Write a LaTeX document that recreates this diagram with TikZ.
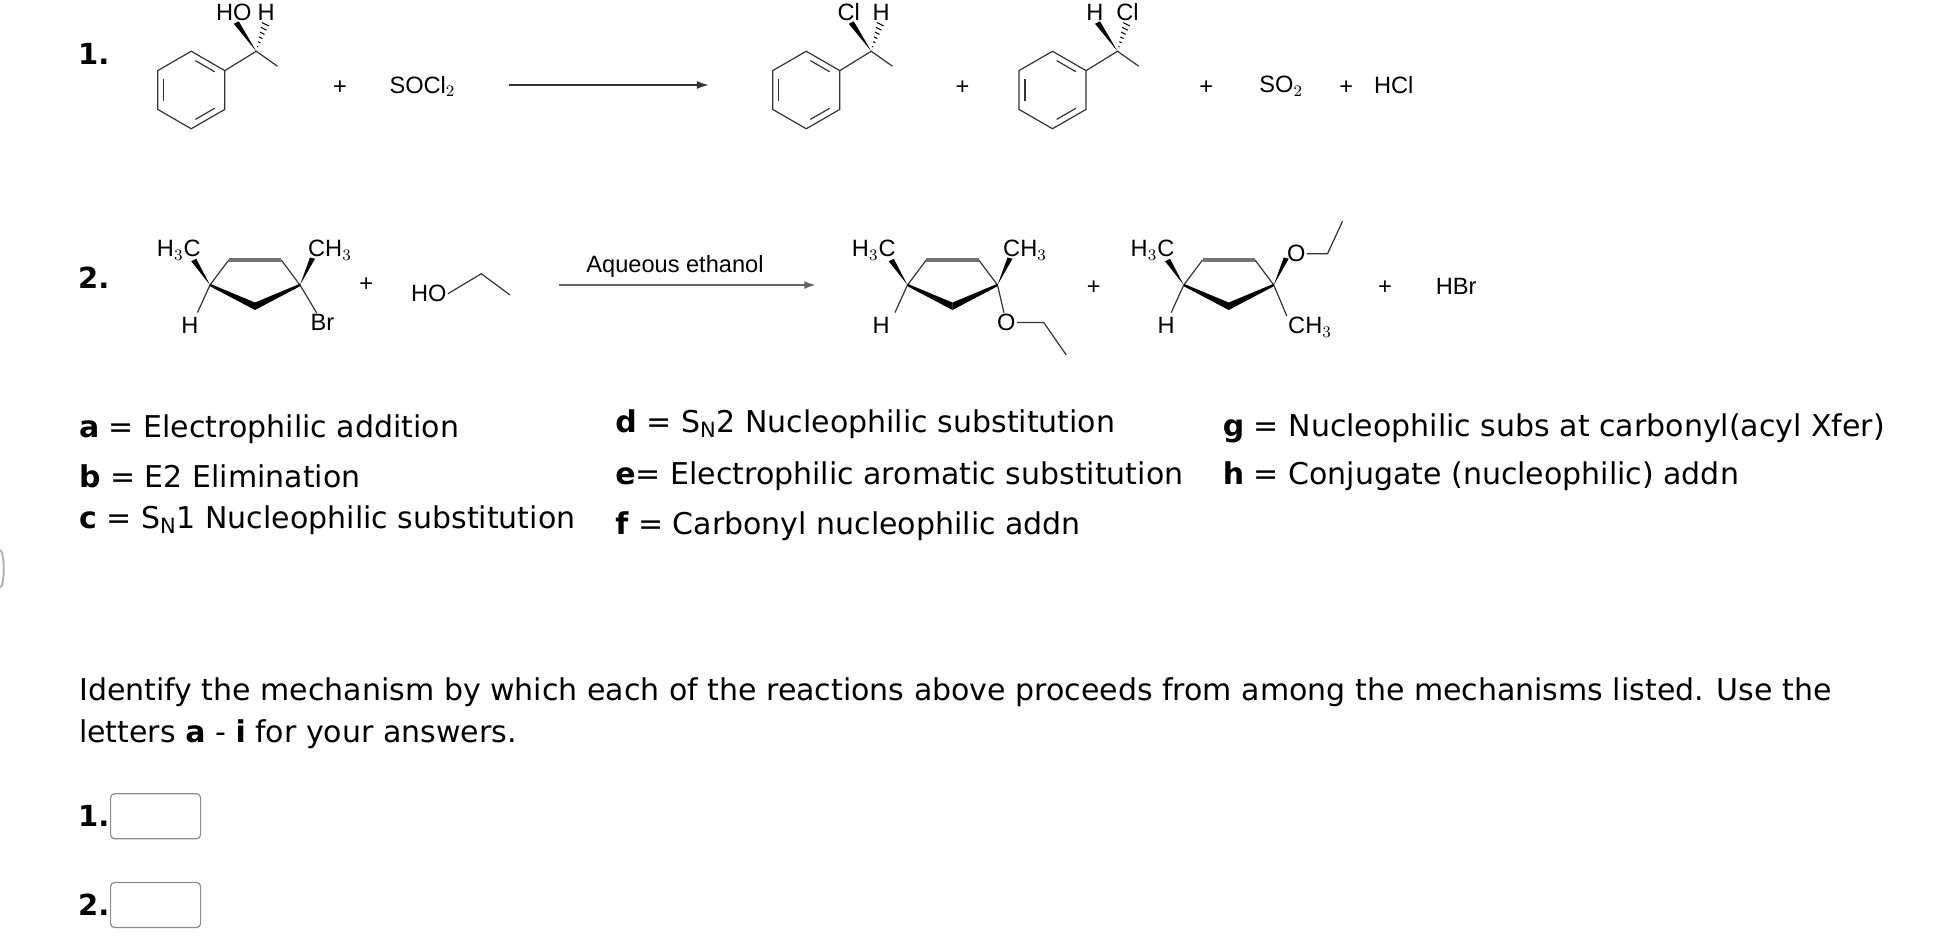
\documentclass[tikz,border=0pt]{standalone}
\usepackage{fontspec}
\setmainfont{DejaVu Sans}
\newfontfamily\chem{Liberation Sans}
\usetikzlibrary{arrows.meta,calc}
\begin{document}
\begin{tikzpicture}[x=0.625pt,y=-0.625pt,
  ch/.style={font=\chem\fontsize{11.8}{13}\selectfont,inner sep=0.5pt},
  tx/.style={font=\fontsize{15}{18}\selectfont,anchor=west,inner sep=0pt},
  num/.style={font=\bfseries\fontsize{14.5}{17}\selectfont,inner sep=0pt},
  bond/.style={line width=0.6pt,black!80},
  ansbox/.style={draw=black!45,rounded corners=2pt,line width=0.6pt},
  pics/benz/.style n args={2}{code={
    \draw[bond] (-90:31) -- (-30:31) -- (30:31) -- (90:31) -- (150:31) -- (-150:31) -- cycle;
    \foreach \a/\b in {-90/-30,30/90,150/-150}{
      \draw[bond] ($(0,0)!0.82!($(\a:31)!0.15!(\b:31)$)$) -- ($(0,0)!0.82!($(\a:31)!0.85!(\b:31)$)$);}
    \coordinate (-c) at (52,-31);
    \draw[bond] (-30:31) -- (-c) -- (69,-19);
    \fill (-c) -- (38,-55) -- (34,-53) -- cycle;
    \foreach \t in {0.15,0.3,...,0.95}{
      \draw[line width=0.5pt] ($(-c)!\t!(60,-55)+(-3*\t,-1.5*\t)$) -- ($(-c)!\t!(60,-55)+(3*\t,1.5*\t)$);}
    \node[ch] (-l) at (34,-62) {#1};
    \node[ch] (-r) at (60,-62) {#2};
  }},
  pics/cpent/.style={code={
    \draw[bond] (0,0) -- (15,-20);
    \draw[bond] (72,0) -- (57,-20);
    \draw[black!55,line width=1.8pt] (15,-20) -- (57,-20);
    \fill (0,-1) -- (0,1) -- (36,20) -- (36,14) -- cycle;
    \fill (72,-1) -- (72,1) -- (36,20) -- (36,14) -- cycle;
    \fill (0,0) -- (-15,-19) -- (-11,-21) -- cycle;
    \fill (72,0) -- (84,-21) -- (80,-22) -- cycle;
    \draw[bond] (0,0) -- (-10,22);
  }}
]
\useasboundingbox (0,0) rectangle (1560,757);
% partial circle at left edge
\draw[black!30,line width=1pt] (0,470) arc (90:-90:3 and 15);

% ---------- Reaction 1 ----------
\node[num] (n1) at (75,43) {1.};
\pic (b1) at (153,72) {benz={HO}{H}};
\node[ch] (p1) at (272,70) {+};
\node[ch] (s1) at (338,69) {SOCl$_2$};
\coordinate (a1s) at (407,68);
\coordinate (a1e) at (567,68);
\draw[bond,-{Latex[length=6pt,width=4pt]}] (a1s) -- (a1e);
\pic (b2) at (645,72) {benz={Cl}{H}};
\node[ch] (p2) at (770,70) {+};
\pic (b3) at (842,72) {benz={H}{Cl}};
\node[ch] (p3) at (965,70) {+};
\node[ch] (s2) at (1025,69) {SO$_2$};
\node[ch] (p4) at (1077,70) {+};
\node[ch] (s3) at (1115,68) {HCl};

% ---------- Reaction 2 ----------
\node[num] (n2) at (75,222) {2.};
\pic (c1) at (168,228) {cpent};
\node[ch] (c1a) at (143,200) {H$_3$C};
\node[ch] (c1b) at (264,200) {CH$_3$};
\node[ch] (c1c) at (152,260) {H};
\node[ch] (c1d) at (258,258) {Br};
\draw[bond] (240,228) -- (c1d);
\node[ch] (p5) at (293,228) {+};
\node[ch] (ho) at (343,235) {HO};
\coordinate (e1) at (385,219);
\coordinate (e2) at (408,236);
\draw[bond] (ho.east) -- (e1) -- (e2);
\node[ch] (aq) at (540,213) {Aqueous ethanol};
\coordinate (a2s) at (447,228);
\coordinate (a2e) at (653,228);
\draw[black!60,line width=1.2pt,-{Latex[length=6pt,width=4pt]}] (a2s) -- (a2e);

\pic (c2) at (726,228) {cpent};
\node[ch] (c2a) at (699,200) {H$_3$C};
\node[ch] (c2b) at (820,200) {CH$_3$};
\node[ch] (c2c) at (705,260) {H};
\node[ch] (c2o) at (805,258) {O};
\draw[bond] (798,228) -- (c2o);
\coordinate (e3) at (835,258);
\coordinate (e4) at (853,284);
\draw[bond] (c2o.east) -- (e3) -- (e4);
\node[ch] (p6) at (875,230) {+};

\pic (c3) at (947,228) {cpent};
\node[ch] (c3a) at (922,200) {H$_3$C};
\node[ch] (c3o) at (1037,203) {O};
\coordinate (e5) at (1062,203);
\coordinate (e6) at (1074,177);
\draw[bond] (c3o.east) -- (e5) -- (e6);
\node[ch] (c3c) at (933,260) {H};
\node[ch] (c3b) at (1048,262) {CH$_3$};
\draw[bond] (1019,228) -- (c3b.north west);
\node[ch] (p7) at (1108,230) {+};
\node[ch] (hbr) at (1165,229) {HBr};

% ---------- Mechanism list ----------
\node[tx] (la) at (63,343) {\textbf{a} = Electrophilic addition};
\node[tx] (lb) at (63,381) {\textbf{b} = E2 Elimination};
\node[tx] (lc) at (63,416) {\textbf{c} = S\textsubscript{N}1 Nucleophilic substitution};
\node[tx] (ld) at (492,339) {\textbf{d} = S\textsubscript{N}2 Nucleophilic substitution};
\node[tx] (le) at (492,381) {\textbf{e}= Electrophilic aromatic substitution};
\node[tx] (lf) at (492,421) {\textbf{f} = Carbonyl nucleophilic addn};
\node[tx] (lg) at (978,343) {\textbf{g} = Nucleophilic subs at carbonyl(acyl Xfer)};
\node[tx] (lh) at (978,381) {\textbf{h} = Conjugate (nucleophilic) addn};

\node[tx] (q1) at (63,554) {Identify the mechanism by which each of the reactions above proceeds from among the mechanisms listed. Use the};
\node[tx] (q2) at (63,587) {letters \textbf{a} - \textbf{i} for your answers.};

\node[num] (r1) at (75,653) {1.};
\node[ansbox,minimum width=45pt,minimum height=22.5pt,anchor=west] (bx1) at (88,653) {};
\node[num] (r2) at (75,724) {2.};
\node[ansbox,minimum width=45pt,minimum height=22.5pt,anchor=west] (bx2) at (88,724) {};
\end{tikzpicture}
\end{document}
